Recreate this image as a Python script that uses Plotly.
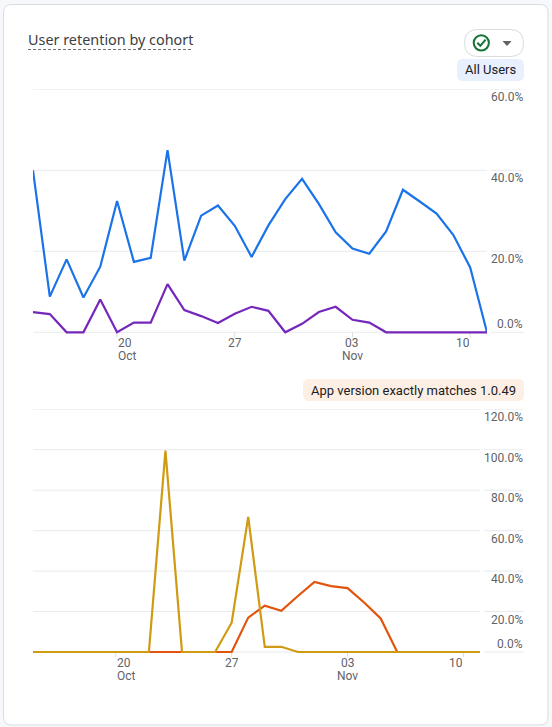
import plotly.graph_objects as go

W, H = 552, 727

dates = ["2024-10-15", "2024-10-16", "2024-10-17", "2024-10-18", "2024-10-19", "2024-10-20", "2024-10-21",
         "2024-10-22", "2024-10-23", "2024-10-24", "2024-10-25", "2024-10-26", "2024-10-27", "2024-10-28",
         "2024-10-29", "2024-10-30", "2024-10-31", "2024-11-01", "2024-11-02", "2024-11-03", "2024-11-04",
         "2024-11-05", "2024-11-06", "2024-11-07", "2024-11-08", "2024-11-09", "2024-11-10", "2024-11-11"]

all_users_a = [40.0, 8.8, 18.0, 8.6, 16.2, 32.4, 17.4, 18.4, 45.0, 17.7, 28.8, 31.3, 26.3, 18.6,
               26.4, 32.9, 37.9, 31.7, 24.7, 20.7, 19.4, 24.9, 35.2, 32.3, 29.3, 24.0, 16.0, 0.0]
all_users_b = [5.0, 4.5, 0.0, 0.0, 8.1, 0.0, 2.4, 2.4, 11.9, 5.5, 4.0, 2.3, 4.6, 6.3,
               5.3, 0.0, 2.1, 5.0, 6.3, 3.1, 2.4, 0.0, 0.0, 0.0, 0.0, 0.0, 0.0, 0.0]
version_a = [0.0, 0.0, 0.0, 0.0, 0.0, 0.0, 0.0, 0.0, 0.0, 0.0, 0.0, 0.0, 0.0, 17.0,
             22.9, 20.4, 27.7, 34.6, 32.6, 31.6, 24.5, 16.6, 0.0, 0.0, 0.0, 0.0, 0.0, 0.0]
version_b = [0.0, 0.0, 0.0, 0.0, 0.0, 0.0, 0.0, 0.0, 99.6, 0.0, 0.0, 0.0, 14.5, 66.8,
             2.5, 2.6, 0.0, 0.0, 0.0, 0.0, 0.0, 0.0, 0.0, 0.0, 0.0, 0.0, 0.0, 0.0]

top_ticks = [0, 20, 40, 60]
bottom_ticks = [0, 20, 40, 60, 80, 100, 120]
x_ticks = ["2024-10-20", "2024-10-27", "2024-11-03", "2024-11-10"]
x_day_labels = ["20", "27", "03", "10"]
x_month_labels = ["Oct", "", "Nov", ""]
x_tick_anchor = ["left", "center", "center", "right"]
x_tick_nudge = {"left": 0, "center": 0, "right": 1}

BLUE, PURPLE, RED, GOLD = "#1a73e8", "#7627bb", "#e2530c", "#d09a12"
GRID, TEXT, DARK = "#e8eaed", "#5f6368", "#3c4043"
FONT = "Roboto, sans-serif"


def px(x):
    return x / W


def py(y):
    return 1 - y / H


def pill(x0, y0, x1, y1, r, fill, line="rgba(0,0,0,0)", width=0):
    p = (f"M{px(x0 + r)},{py(y0)} L{px(x1 - r)},{py(y0)} Q{px(x1)},{py(y0)} {px(x1)},{py(y0 + r)} "
         f"L{px(x1)},{py(y1 - r)} Q{px(x1)},{py(y1)} {px(x1 - r)},{py(y1)} L{px(x0 + r)},{py(y1)} "
         f"Q{px(x0)},{py(y1)} {px(x0)},{py(y1 - r)} L{px(x0)},{py(y0 + r)} Q{px(x0)},{py(y0)} {px(x0 + r)},{py(y0)} Z")
    return dict(type="path", xref="paper", yref="paper", path=p, fillcolor=fill,
                line=dict(color=line, width=width), layer="below")


fig = go.Figure()
for y, c in [(all_users_a, BLUE), (all_users_b, PURPLE)]:
    fig.add_trace(go.Scatter(x=dates, y=y, mode="lines", line=dict(color=c, width=2.2, simplify=False),
                             cliponaxis=False, xaxis="x", yaxis="y", showlegend=False))
for y, c in [(version_a, RED), (version_b, GOLD)]:
    fig.add_trace(go.Scatter(x=dates, y=y, mode="lines", line=dict(color=c, width=2.2, simplify=False),
                             cliponaxis=False, xaxis="x2", yaxis="y2", showlegend=False))

xcommon = dict(type="date", tickmode="array", tickvals=x_ticks, showticklabels=False, showgrid=False,
               zeroline=False, showline=False, ticks="")
ycommon = dict(tickmode="array", showticklabels=False, showgrid=False,
               zeroline=False, showline=False, ticks="", side="right")

annotations = []
shapes = []

# gridlines with the small gap before the label column, y-axis labels right-aligned
for axis, ticks, grid_end in (("y", top_ticks, 487), ("y2", bottom_ticks, 480)):
    for t in ticks:
        for a, b in ((33, grid_end), (grid_end + 4, 523.5)):
            shapes.append(dict(type="line", xref="paper", yref=axis, x0=px(a), x1=px(b), y0=t, y1=t,
                               line=dict(color=GRID, width=1), layer="below"))
        annotations.append(dict(text=f"{t:.1f}%", xref="paper", yref=axis, x=px(525), y=t,
                                xanchor="right", yanchor="middle", showarrow=False,
                                yshift=8 if t == 0 else -8, font=dict(family=FONT, size=12, color=TEXT)))

# x-axis tick marks and labels
for axis, base, y_day, y_mon in (("x", 332.3, 343.3, 355.5), ("x2", 652, 663.2, 676.0)):
    for val, day, mon, anc in zip(x_ticks, x_day_labels, x_month_labels, x_tick_anchor):
        shapes.append(dict(type="line", xref=axis, yref="paper", x0=val, x1=val, y0=py(base), y1=py(base + 5),
                           line=dict(color="#dadce0", width=1), layer="below"))
        annotations.append(dict(text=day, xref=axis, yref="paper", x=val, y=py(y_day), height=12,
                                xanchor=anc, yanchor="middle", showarrow=False, xshift=x_tick_nudge[anc],
                                borderpad=0, font=dict(family=FONT, size=12, color=TEXT)))
        if mon:
            annotations.append(dict(text=mon, xref=axis, yref="paper", x=val, y=py(y_mon), height=12,
                                    xanchor=anc, yanchor="middle", showarrow=False, xshift=x_tick_nudge[anc],
                                    borderpad=0, font=dict(family=FONT, size=12, color=TEXT)))


def add_text(text, x, y, size, color, xanchor="center", family=FONT):
    annotations.append(dict(text=text, x=px(x), y=py(y), xref="paper", yref="paper", showarrow=False,
                            xanchor=xanchor, yanchor="middle",
                            font=dict(family=family, size=size, color=color)))


add_text("User retention by cohort", 26, 39.8, 14.4, DARK, "left", "'Noto Sans', sans-serif")
add_text("All Users", 490.5, 69.7, 13, "#202124")
add_text("App version exactly matches 1.0.49", 413.5, 390, 13, "#202124")

# check icon
cx, cy = 481.3, 42.8
icon_r = 7.6
check = f"M{px(cx - 4)},{py(cy)} L{px(cx - 1)},{py(cy + 3)} L{px(cx + 4.3)},{py(cy - 3.2)}"
tri = f"M{px(502.5)},{py(41)} L{px(511.5)},{py(41)} L{px(507)},{py(46)} Z"

shapes = [
    pill(3.5, 4.5, 548, 725, 8, "#ffffff", "#dadce0", 1),
    pill(464.5, 29.5, 523.5, 56.5, 13.5, "#ffffff", "#dadce0", 1),
    pill(457, 59, 524, 81, 6, "#e8f0fe"),
    pill(303, 379, 524, 401, 6, "#fdefe3"),
] + shapes + [
    dict(type="circle", xref="paper", yref="paper", x0=px(cx - icon_r), x1=px(cx + icon_r),
         y0=py(cy + icon_r), y1=py(cy - icon_r), line=dict(color="#137333", width=2), fillcolor="rgba(0,0,0,0)"),
    dict(type="path", xref="paper", yref="paper", path=check, line=dict(color="#137333", width=2)),
    dict(type="path", xref="paper", yref="paper", path=tri, fillcolor="#5f6368", line=dict(width=0)),
    dict(type="line", xref="paper", yref="paper", x0=px(28), x1=px(193), y0=py(49.5), y1=py(49.5),
         line=dict(color="#70757a", width=1, dash="3px,2px")),
]

# Axis ranges run a little below zero so the flat zero runs are not lost at the plot edge;
# the domains are extended by the same amount, so zero stays on its baseline.
top_px_per_unit = 243 / 60
bottom_px_per_unit = 242.7 / 120
below = 3

fig.update_layout(
    width=W, height=H, autosize=False,
    margin=dict(l=0, r=0, t=0, b=0),
    paper_bgcolor="#f6f8fb", plot_bgcolor="rgba(0,0,0,0)",
    showlegend=False,
    xaxis=dict(domain=[px(33), px(487)], range=["2024-10-15", "2024-11-11"], anchor="y", **xcommon),
    yaxis=dict(domain=[py(332.3 + below * top_px_per_unit), py(89.3)], range=[-below, 60],
               tickvals=top_ticks, anchor="x", **ycommon),
    xaxis2=dict(domain=[px(33), px(480)], range=["2024-10-15", "2024-11-11"], anchor="y2", **xcommon),
    yaxis2=dict(domain=[py(652 + below * bottom_px_per_unit), py(409.3)], range=[-below, 120],
                tickvals=bottom_ticks, anchor="x2", **ycommon),
    shapes=shapes,
    annotations=annotations,
)

fig.write_html("out.html", config=dict(displayModeBar=False),
               post_script="document.body.style.margin='0';document.body.style.overflow='hidden';")
